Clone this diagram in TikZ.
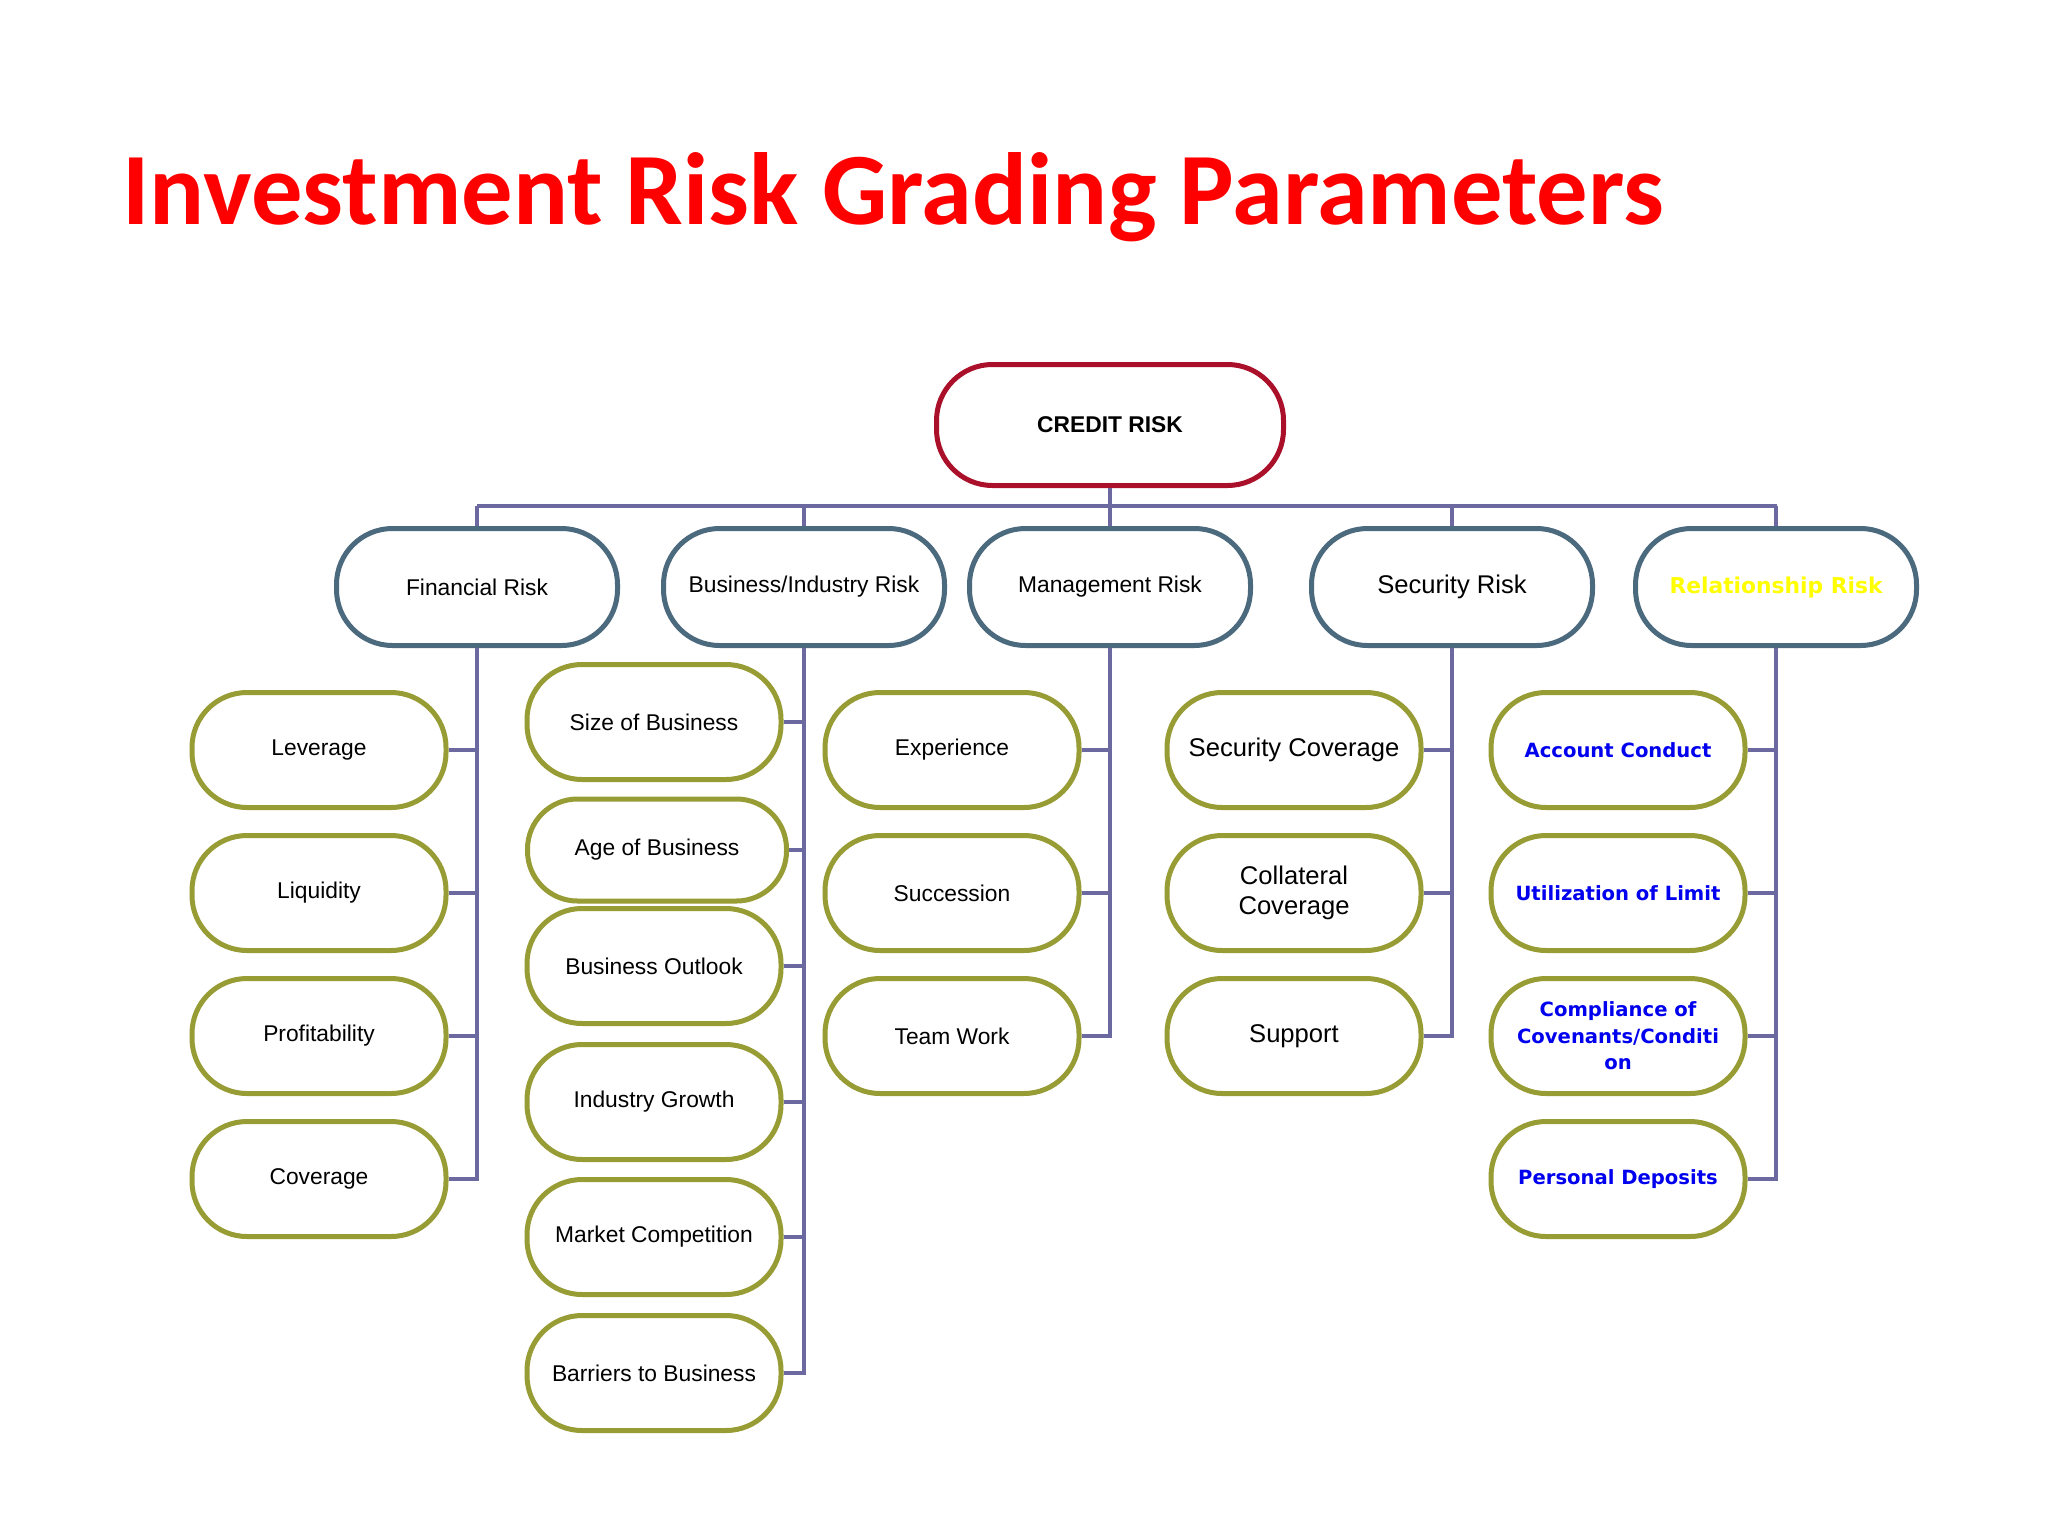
\documentclass[tikz,border=0pt]{standalone}
\usepackage{fontspec}
\setmainfont{Liberation Sans}
\newfontfamily\titlefont{Carlito}
\newfontfamily\verdfont{DejaVu Sans}
\definecolor{titlered}{RGB}{255,0,0}
\definecolor{creditc}{RGB}{170,16,42}
\definecolor{ltwo}{RGB}{76,106,126}
\definecolor{lthree}{RGB}{152,156,52}
\definecolor{connc}{RGB}{108,104,160}
\definecolor{bluetext}{RGB}{0,0,238}
\definecolor{yelltext}{RGB}{255,255,0}
\tikzset{
  basebox/.style={draw, fill=white, line width=2.5pt, align=center, inner sep=0pt},
  creditbox/.style={basebox, draw=creditc, minimum width=173.5pt, minimum height=60.5pt, rounded corners=28pt, font=\fontsize{11.4}{13.5}\selectfont\bfseries},
  twobox/.style={basebox, draw=ltwo, minimum width=140.5pt, minimum height=58.5pt, rounded corners=28pt, font=\fontsize{11.4}{13.5}\selectfont},
  threebox/.style={basebox, draw=lthree, minimum width=127pt, minimum height=57.5pt, rounded corners=27.5pt, font=\fontsize{11.4}{13.5}\selectfont},
  bigtext/.style={font=\fontsize{12.8}{15}\selectfont},
  reltext/.style={font=\verdfont\bfseries\fontsize{9.8}{13.2}\selectfont, text=bluetext},
  connline/.style={draw=connc, line width=1.6pt}
}
\begin{document}
\begin{tikzpicture}[x=0.5pt,y=-0.5pt]
\useasboundingbox[fill=white] (0,0) rectangle (2048,1536);
\node[anchor=base west, inner sep=0pt, text=titlered, font=\titlefont\bfseries\fontsize{51.3}{60}\selectfont] (title) at (122,224) {Investment Risk Grading Parameters};

% level 1
\node[creditbox] (credit) at (1110,425) {CREDIT RISK};

% level 2
\node[twobox] (fin) at (477,587) {Financial Risk};
\node[twobox] (bus) at (804,587) {Business/Industry Risk};
\node[twobox] (mgt) at (1110,587) {Management Risk};
\node[twobox, bigtext] (sec) at (1452,587) {Security Risk};
\node[twobox, font=\verdfont\bfseries\fontsize{10.9}{13.5}\selectfont, text=yelltext] (rel) at (1776,587) {Relationship Risk};

% connectors level 1-2
\coordinate (busL) at (477,506);
\coordinate (busR) at (1777,506);
\draw[connline] (credit.south) -- (credit.south |- busL);
\draw[connline] (busL) -- (busR);
\foreach \n in {fin,bus,mgt,sec,rel}{
  \draw[connline] (\n.north |- busL) -- (\n.north);
}

% financial children
\node[threebox] (f1) at (319,750) {Leverage};
\node[threebox] (f2) at (319,893) {Liquidity};
\node[threebox] (f3) at (319,1036) {Profitability};
\node[threebox] (f4) at (319,1179) {Coverage};

% business children
\node[threebox] (b1) at (654,722) {Size of Business};
\node[threebox, minimum width=129.5pt, minimum height=51pt, rounded corners=25pt] (b2) at (657,850) {Age of Business};
\node[threebox] (b3) at (654,966) {Business Outlook};
\node[threebox] (b4) at (654,1102) {Industry Growth};
\node[threebox] (b5) at (654,1237) {Market Competition};
\node[threebox] (b6) at (654,1373) {Barriers to Business};

% management children
\node[threebox] (m1) at (952,750) {Experience};
\node[threebox] (m2) at (952,893) {Succession};
\node[threebox] (m3) at (952,1036) {Team Work};

% security children
\node[threebox, bigtext] (s1) at (1294,750) {Security Coverage};
\node[threebox, bigtext] (s2) at (1294,893) {Collateral\\Coverage};
\node[threebox, bigtext] (s3) at (1294,1036) {Support};

% relationship children
\node[threebox, reltext] (r1) at (1618,750) {Account Conduct};
\node[threebox, reltext] (r2) at (1618,893) {Utilization of Limit};
\node[threebox, reltext] (r3) at (1618,1036) {Compliance of\\Covenants/Conditi\\on};
\node[threebox, reltext] (r4) at (1618,1179) {Personal Deposits};

% vertical connectors
\draw[connline] (fin.south) -- (fin.south |- f4.east) -- (f4.east);
\foreach \c in {f1,f2,f3}{\draw[connline] (\c.east) -- (\c.east -| fin.south);}
\draw[connline] (bus.south) -- (bus.south |- b6.east) -- (b6.east);
\foreach \c in {b1,b2,b3,b4,b5}{\draw[connline] (\c.east) -- (\c.east -| bus.south);}
\draw[connline] (mgt.south) -- (mgt.south |- m3.east) -- (m3.east);
\foreach \c in {m1,m2}{\draw[connline] (\c.east) -- (\c.east -| mgt.south);}
\draw[connline] (sec.south) -- (sec.south |- s3.east) -- (s3.east);
\foreach \c in {s1,s2}{\draw[connline] (\c.east) -- (\c.east -| sec.south);}
\draw[connline] (rel.south) -- (rel.south |- r4.east) -- (r4.east);
\foreach \c in {r1,r2,r3}{\draw[connline] (\c.east) -- (\c.east -| rel.south);}
\end{tikzpicture}
\end{document}
